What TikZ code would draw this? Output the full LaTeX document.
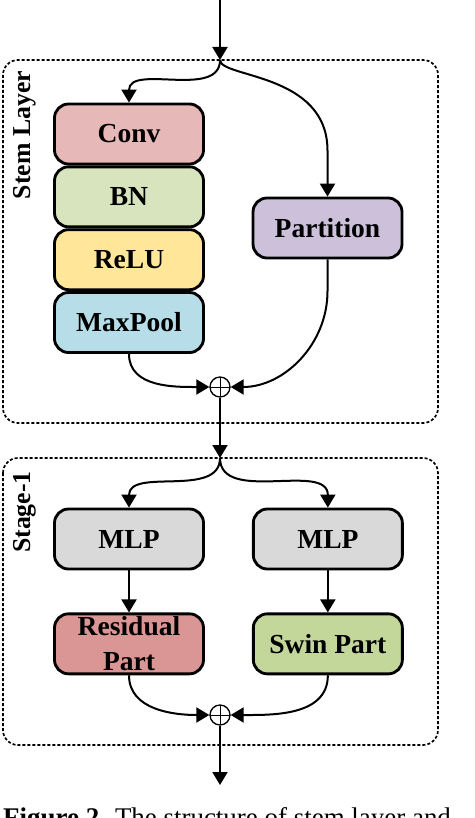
\documentclass[tikz,border=0pt]{standalone}
\usepackage{fontspec}
\setmainfont{Liberation Serif}
\usepackage{tikz}
\usetikzlibrary{positioning}
\usetikzlibrary{shapes}
\usetikzlibrary{arrows.meta}
\usetikzlibrary{calc}

\definecolor{convcol}{HTML}{E6B8B7}
\definecolor{bncol}{HTML}{D7E4BD}
\definecolor{relucol}{HTML}{FFE699}
\definecolor{poolcol}{HTML}{B7DEE8}
\definecolor{partcol}{HTML}{CCC0DA}
\definecolor{mlpcol}{HTML}{D9D9D9}
\definecolor{rescol}{HTML}{DA9694}
\definecolor{swincol}{HTML}{C4D79B}

\begin{document}
\begin{tikzpicture}[x = 0.03cm, y = 0.03cm,
    block/.style = {rectangle, rounded corners = 0.42cm, draw, line width = 0.085cm,
        minimum width = 4.47cm, minimum height = 1.8cm, inner sep = 0, text centered,
        align = center, font = \fontsize{23.5}{26}\selectfont\bfseries},
    flow/.style = {-{Triangle[length = 0.39cm, width = 0.45cm]}, line width = 0.06cm},
    group/.style = {rounded corners = 0.45cm, line width = 0.05cm,
        dash pattern = on 0.09cm off 0.06cm},
    plus/.style = {circle, draw, line width = 0.04cm, minimum size = 0.6cm, inner sep = 0,
        path picture = {\draw[line width = 0.03cm]
            (path picture bounding box.north) -- (path picture bounding box.south)
            (path picture bounding box.west) -- (path picture bounding box.east);}},
    tag/.style = {rotate = 90, text centered, font = \fontsize{22}{24}\selectfont\bfseries}]
    \useasboundingbox (0,0) rectangle (474,-818);
    \clip (0,0) rectangle (474,-818);
    % groups %
    \draw[group] (3,-60) rectangle (438,-423);
    \draw[group] (3,-458) rectangle (438,-745);
    \node[tag] (stemtag) at (25,-135) {Stem Layer};
    \node[tag] (stagetag) at (25,-512) {Stage-1};
    % nodes %
    \coordinate (in) at (220,0);
    \coordinate (split1) at (220,-60);
    \node[block, fill = convcol] (conv) at (129,-134) {Conv};
    \node[block, fill = bncol, below = 0 of conv] (bn) {BN};
    \node[block, fill = relucol, below = 0 of bn] (relu) {ReLU};
    \node[block, fill = poolcol, below = 0 of relu] (pool) {MaxPool};
    \node[block, fill = partcol] (part) at (327.5,-228) {Partition};
    \node[plus] (sum1) at (220,-387) {};
    \coordinate (split2) at (220,-458);
    \node[block, fill = mlpcol] (mlpl) at (129,-539) {MLP};
    \node[block, fill = mlpcol, right = 1.41cm of mlpl] (mlpr) {MLP};
    \node[block, fill = rescol, below = 1.26cm of mlpl] (res) {Residual\\[4pt]Part};
    \node[block, fill = swincol, below = 1.26cm of mlpr] (swin) {Swin Part};
    \node[plus] (sum2) at (220,-715) {};
    \coordinate (out) at (220,-785);
    % edges %
    \draw[flow] (in) -- (split1);
    \draw[flow] (split1) to[out = -90, in = 90] (conv.north);
    \draw[flow] (split1) .. controls +(0,-18) and +(0,78) .. ($(part.north)+(0,46)$) -- (part.north);
    \draw[flow] (pool.south) to[out = -90, in = 180] (sum1.west);
    \draw[flow] (part.south) -- (part.south |- pool.north) to[out = -90, in = 0] (sum1.east);
    \draw[flow] (sum1.south) -- (split2);
    \draw[flow] (split2) to[out = -90, in = 90] (mlpl.north);
    \draw[flow] (split2) to[out = -90, in = 90] (mlpr.north);
    \draw[flow] (mlpl) -- (res);
    \draw[flow] (mlpr) -- (swin);
    \draw[flow] (res.south) to[out = -90, in = 180] (sum2.west);
    \draw[flow] (swin.south) to[out = -90, in = 0] (sum2.east);
    \draw[flow] (sum2.south) -- (out);
    % caption %
    \node[anchor = base west, inner sep = 0, font = \fontsize{23}{25}\selectfont] (caption) at (3,-826)
        {\textbf{Figure 2.} The structure of stem layer and};
\end{tikzpicture}
\end{document}
